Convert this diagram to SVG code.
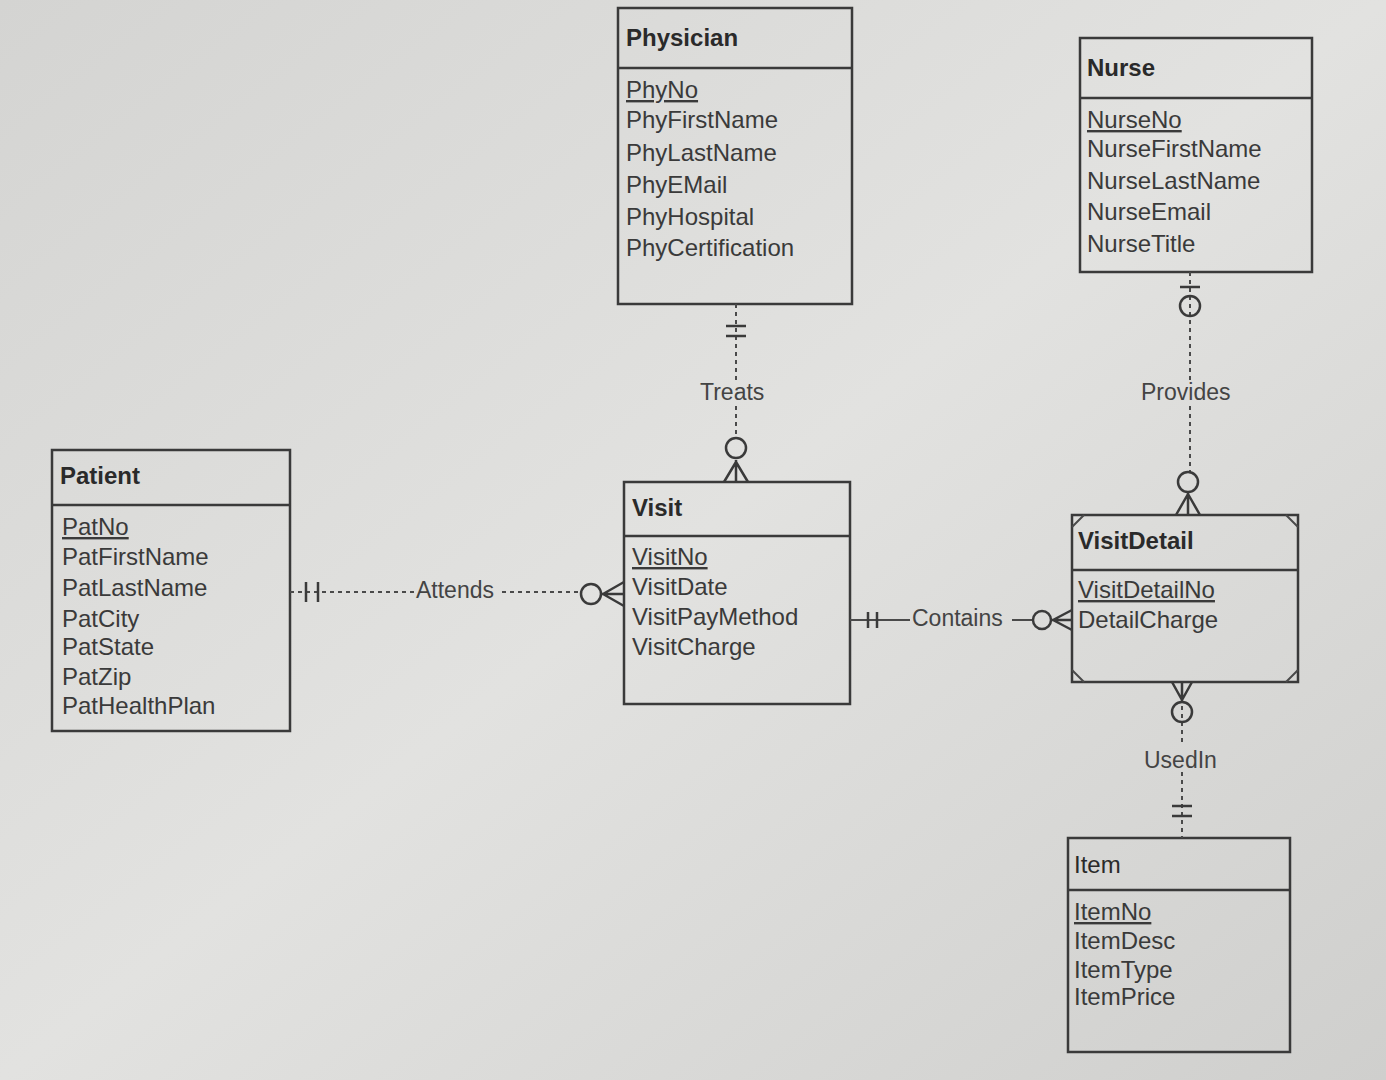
<svg xmlns="http://www.w3.org/2000/svg" width="1386" height="1080" viewBox="0 0 1386 1080">
<defs>
<linearGradient id="bg" x1="0" y1="0" x2="1" y2="1"><stop offset="0" stop-color="#d4d4d2"/><stop offset="0.5" stop-color="#e2e2e0"/><stop offset="1" stop-color="#cfcfcd"/></linearGradient>
</defs>
<style>
.box{fill:none;stroke:#3a3a3a;stroke-width:2.5}
.t{font-family:"Liberation Sans",Arial,sans-serif;font-size:24px;fill:#3a3a3a}
.h{font-family:"Liberation Sans",Arial,sans-serif;font-size:24px;font-weight:bold;fill:#2a2a2a}
.u{text-decoration:underline}
.ln{stroke:#4a4a4a;stroke-width:2;fill:none}
.dot{stroke-dasharray:4 4}
.c{fill:none;stroke:#3a3a3a;stroke-width:2.5}
.lbl{font-family:"Liberation Sans",Arial,sans-serif;font-size:23px;fill:#444}
</style>
<rect width="1386" height="1080" fill="url(#bg)"/>
<g id="physician">
<rect class="box" x="618" y="8" width="234" height="296"/><line class="box" x1="618" y1="68" x2="852" y2="68"/>
<text class="h" x="626" y="46">Physician</text>
<text class="t" x="626" y="98"><tspan class="u">PhyNo</tspan></text>
<text class="t" x="626" y="128">PhyFirstName</text>
<text class="t" x="626" y="161">PhyLastName</text>
<text class="t" x="626" y="193">PhyEMail</text>
<text class="t" x="626" y="225">PhyHospital</text>
<text class="t" x="626" y="256">PhyCertification</text>
</g>
<g id="nurse">
<rect class="box" x="1080" y="38" width="232" height="234"/><line class="box" x1="1080" y1="98" x2="1312" y2="98"/>
<text class="h" x="1087" y="76">Nurse</text>
<text class="t u" x="1087" y="128">NurseNo</text>
<text class="t" x="1087" y="157">NurseFirstName</text>
<text class="t" x="1087" y="189">NurseLastName</text>
<text class="t" x="1087" y="220">NurseEmail</text>
<text class="t" x="1087" y="252">NurseTitle</text>
</g>
<g id="patient">
<rect class="box" x="52" y="450" width="238" height="281"/><line class="box" x1="52" y1="505" x2="290" y2="505"/>
<text class="h" x="60" y="484">Patient</text>
<text class="t u" x="62" y="535">PatNo</text>
<text class="t" x="62" y="565">PatFirstName</text>
<text class="t" x="62" y="596">PatLastName</text>
<text class="t" x="62" y="627">PatCity</text>
<text class="t" x="62" y="655">PatState</text>
<text class="t" x="62" y="685">PatZip</text>
<text class="t" x="62" y="714">PatHealthPlan</text>
</g>
<g id="visit">
<rect class="box" x="624" y="482" width="226" height="222"/><line class="box" x1="624" y1="536" x2="850" y2="536"/>
<text class="h" x="632" y="516">Visit</text>
<text class="t u" x="632" y="565">VisitNo</text>
<text class="t" x="632" y="595">VisitDate</text>
<text class="t" x="632" y="625">VisitPayMethod</text>
<text class="t" x="632" y="655">VisitCharge</text>
</g>
<g id="visitdetail">
<rect class="box" x="1072" y="515" width="226" height="167"/><line class="box" x1="1072" y1="570" x2="1298" y2="570"/>
<path class="ln" d="M1072 527 L1084 515 M1286 515 L1298 527 M1072 670 L1084 682 M1286 682 L1298 670"/>
<text class="h" x="1078" y="549">VisitDetail</text>
<text class="t u" x="1078" y="598">VisitDetailNo</text>
<text class="t" x="1078" y="628">DetailCharge</text>
</g>
<g id="item">
<rect class="box" x="1068" y="838" width="222" height="214"/><line class="box" x1="1068" y1="890" x2="1290" y2="890"/>
<text class="h" x="1074" y="873" style="font-weight:normal">Item</text>
<text class="t u" x="1074" y="920">ItemNo</text>
<text class="t" x="1074" y="949">ItemDesc</text>
<text class="t" x="1074" y="978">ItemType</text>
<text class="t" x="1074" y="1005">ItemPrice</text>
</g>
<g id="connectors">
<!-- Treats -->
<line class="ln dot" x1="736" y1="304" x2="736" y2="380"/><line class="ln dot" x1="736" y1="406" x2="736" y2="438"/>
<path class="c" d="M726 326 H746 M726 336 H746"/>
<circle class="c" cx="736" cy="448" r="10"/>
<path class="c" d="M736 460 V482 M736 462 L724 482 M736 462 L748 482"/>
<text class="lbl" x="700" y="400">Treats</text>
<!-- Provides -->
<line class="ln dot" x1="1190" y1="272" x2="1190" y2="380"/><line class="ln dot" x1="1190" y1="406" x2="1190" y2="472"/>
<path class="c" d="M1180 287 H1200"/>
<circle class="c" cx="1190" cy="306" r="10"/>
<circle class="c" cx="1188" cy="482" r="10"/>
<path class="c" d="M1188 492 V515 M1188 494 L1176 515 M1188 494 L1200 515"/>
<text class="lbl" x="1141" y="400">Provides</text>
<!-- Attends -->
<line class="ln dot" x1="290" y1="592" x2="414" y2="592"/><line class="ln dot" x1="502" y1="592" x2="581" y2="592"/>
<path class="c" d="M306 582 V602 M318 582 V602"/>
<circle class="c" cx="591" cy="594" r="10"/>
<path class="c" d="M601 594 H624 M603 594 L624 582 M603 594 L624 606"/>
<text class="lbl" x="416" y="598">Attends</text>
<!-- Contains -->
<line class="ln" x1="850" y1="620" x2="910" y2="620"/><line class="ln" x1="1012" y1="620" x2="1032" y2="620"/>
<path class="c" d="M868 612 V628 M877 612 V628"/>
<circle class="c" cx="1042" cy="620" r="9"/>
<path class="c" d="M1051 620 H1072 M1053 620 L1072 610 M1053 620 L1072 630"/>
<text class="lbl" x="912" y="626">Contains</text>
<!-- UsedIn -->
<line class="ln dot" x1="1182" y1="682" x2="1182" y2="744"/><line class="ln dot" x1="1182" y1="772" x2="1182" y2="838"/>
<path class="c" d="M1182 682 V702 M1182 700 L1172 682 M1182 700 L1192 682"/>
<circle class="c" cx="1182" cy="712" r="10"/>
<path class="c" d="M1172 806 H1192 M1172 816 H1192"/>
<text class="lbl" x="1144" y="768">UsedIn</text>
</g>
</svg>
